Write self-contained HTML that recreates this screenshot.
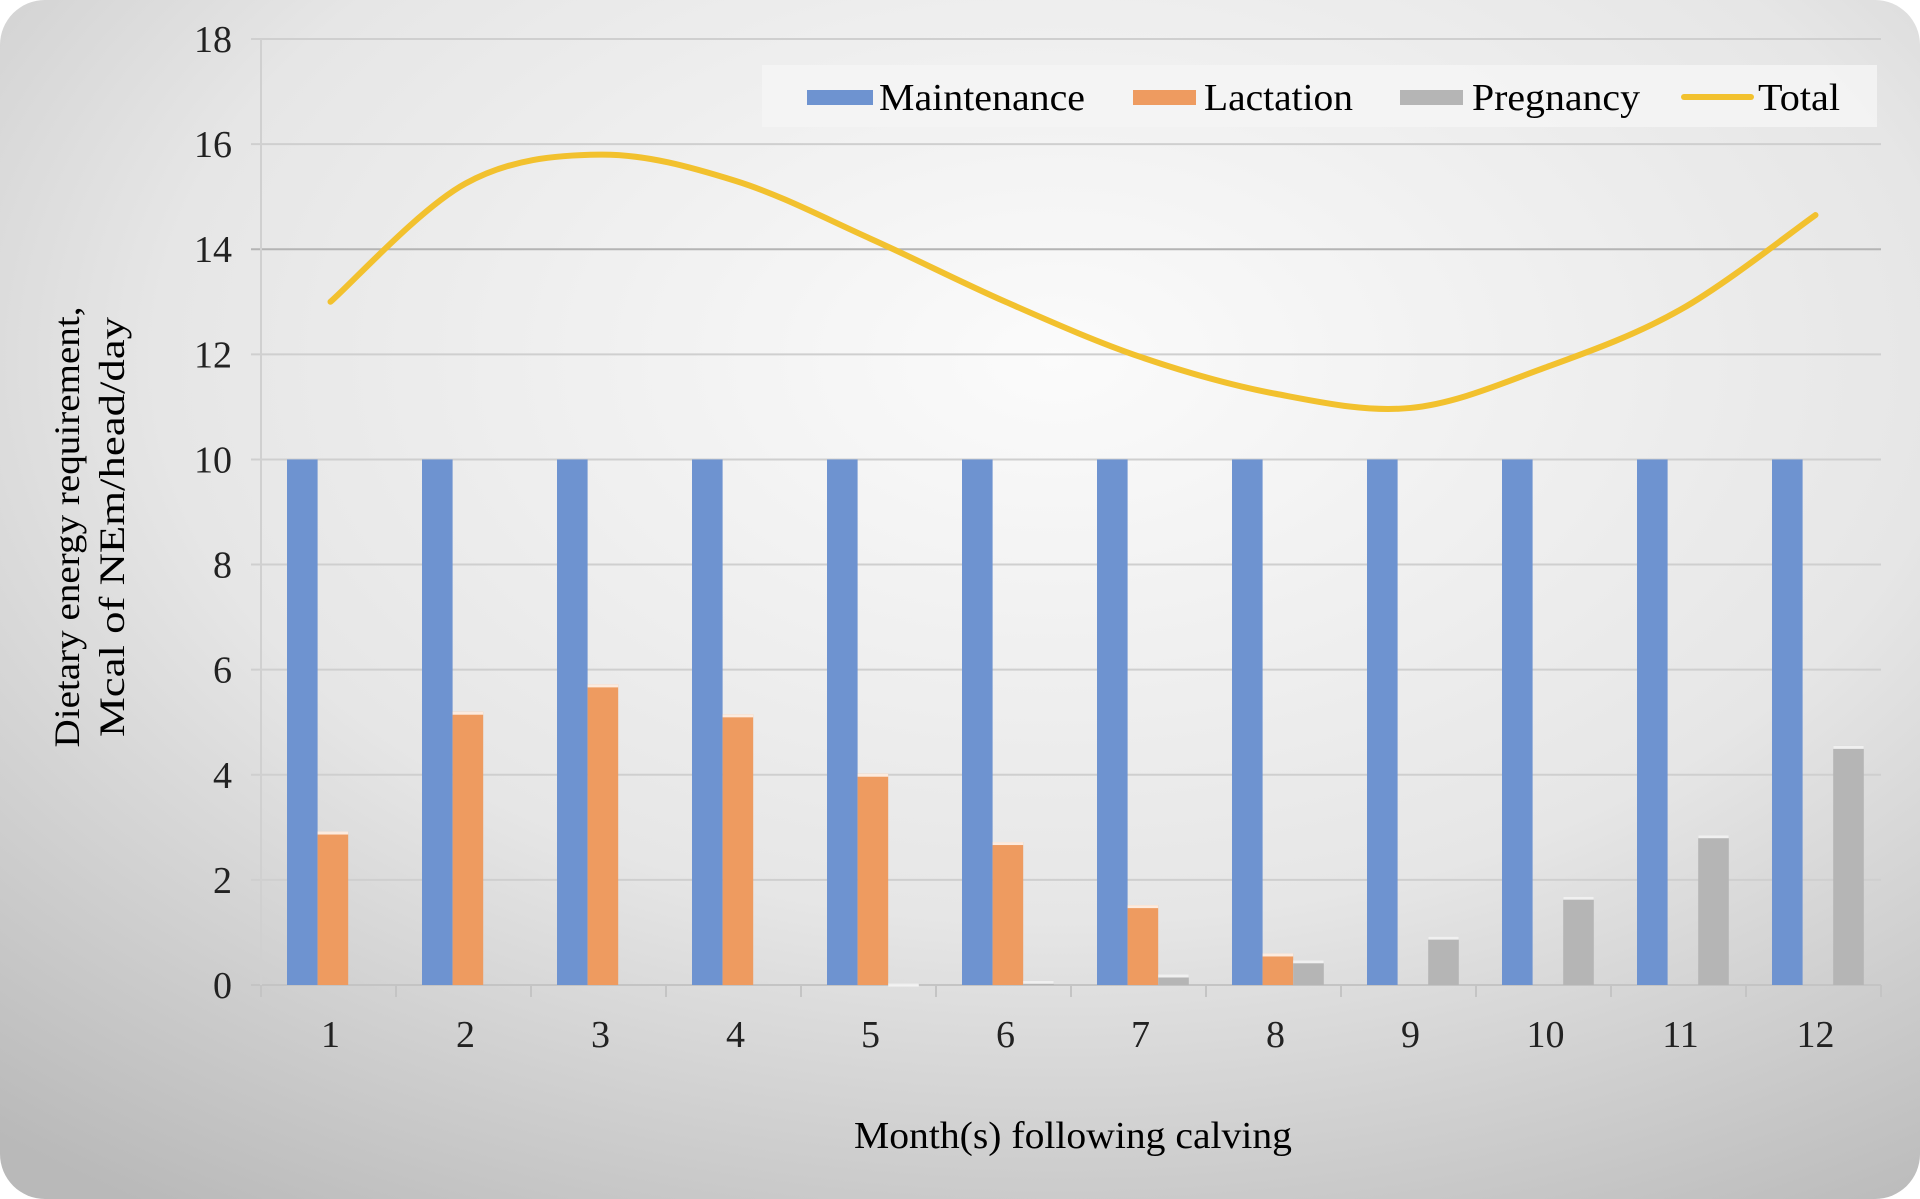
<!DOCTYPE html>
<html><head><meta charset="utf-8"><style>
html,body{margin:0;padding:0;background:#fff;}
svg{display:block;font-family:"Liberation Serif",serif;}
</style></head><body>
<svg id="chart" width="1920" height="1199" viewBox="0 0 1920 1199">
<defs>
<radialGradient id="bg" cx="0.55" cy="0.3" r="0.85">
<stop offset="0" stop-color="#fbfbfb"/><stop offset="0.55" stop-color="#e6e6e6"/><stop offset="1" stop-color="#b9b9b9"/>
</radialGradient>
</defs>
<rect x="0" y="0" width="1920" height="1199" rx="45" fill="url(#bg)"/>
<g id="grid"></g>
<g id="bars"></g>
<g id="line"></g>
<g id="axes"></g>
<g>
<rect x="762" y="65" width="1115" height="62" fill="#f4f4f4" opacity="0.85"/>
<rect x="807" y="90" width="66" height="15" fill="#6e93d0"/>
<text x="879" y="110" font-size="38" textLength="206" lengthAdjust="spacingAndGlyphs">Maintenance</text>
<rect x="1133" y="90" width="63" height="15" fill="#ee9b60"/>
<text x="1204" y="110" font-size="38" textLength="149" lengthAdjust="spacingAndGlyphs">Lactation</text>
<rect x="1400" y="90" width="63" height="15" fill="#b5b5b5"/>
<text x="1472" y="110" font-size="38" textLength="168" lengthAdjust="spacingAndGlyphs">Pregnancy</text>
<line x1="1684" y1="97" x2="1751" y2="97" stroke="#f2c12e" stroke-width="6" stroke-linecap="round"/>
<text x="1758" y="110" font-size="38" textLength="82" lengthAdjust="spacingAndGlyphs">Total</text>
</g>
<text transform="translate(79,527) rotate(-90)" text-anchor="middle" font-size="36" textLength="441" lengthAdjust="spacingAndGlyphs">Dietary energy requirement,</text>
<text transform="translate(124,527) rotate(-90)" text-anchor="middle" font-size="36" textLength="420" lengthAdjust="spacingAndGlyphs">Mcal of NEm/head/day</text>
<text x="1073" y="1148" text-anchor="middle" font-size="38" textLength="438" lengthAdjust="spacingAndGlyphs">Month(s) following calving</text>
</svg>
<script>
const categories = ["1","2","3","4","5","6","7","8","9","10","11","12"];
const maintenance = [10,10,10,10,10,10,10,10,10,10,10,10];
const lactation = [2.92,5.2,5.72,5.15,4.02,2.72,1.52,0.6,0,0,0,0];
const pregnancy = [0,0,0,0,0.03,0.08,0.2,0.47,0.92,1.68,2.85,4.55];
const total = [13.0,15.25,15.8,15.3,14.2,13.0,11.95,11.25,10.98,11.75,12.85,14.65];
const yTicks = [0,2,4,6,8,10,12,14,16,18];

const NS = "http://www.w3.org/2000/svg";
const X0 = 261, X1 = 1881, Y0 = 985, Y18 = 39, YMAX = 18;
const band = (X1 - X0) / categories.length;
const yS = v => Y0 - (v / YMAX) * (Y0 - Y18);
const xC = i => X0 + band * i + band / 2;
const barW = 30.6, gStart = 26;
function mk(tag, attrs, parent) { const e = document.createElementNS(NS, tag); for (const k in attrs) e.setAttribute(k, attrs[k]); parent.appendChild(e); return e; }

const grid = document.getElementById('grid');
yTicks.forEach(t => {
  const y = yS(t);
  const l = mk('line', {x1: X0 - 10, x2: X1, y1: y, y2: y, stroke: t === 0 ? '#c4c4c4' : (t === 14 ? '#b4b4b4' : '#cfcfcf'), 'stroke-width': 2}, grid);
  
  
  const tx = mk('text', {x: 232, y: y + 13, 'text-anchor': 'end', 'font-size': 38, fill: '#222'}, grid);
  tx.textContent = t;
  
  
});
mk('line', {x1: X0, x2: X0, y1: Y18, y2: Y0, stroke: '#d0d0d0', 'stroke-width': 2}, grid);

const axes = document.getElementById('axes');
for (let i = 0; i <= categories.length; i++) {
  const x = X0 + band * i;
  mk('line', {x1: x, x2: x, y1: Y0, y2: Y0 + 12, stroke: '#c4c4c4', 'stroke-width': 2}, axes);
}
categories.forEach((c, i) => {
  const t = mk('text', {x: xC(i) + 2, y: 1047, 'text-anchor': 'middle', 'font-size': 38, fill: '#222'}, axes);
  t.textContent = c;
  
  
});

const bars = document.getElementById('bars');
const series = [[maintenance, '#6e93d0', 'maintenance'], [lactation, '#ee9b60', 'lactation'], [pregnancy, '#b5b5b5', 'pregnancy']];
categories.forEach((c, i) => {
  series.forEach((s, j) => {
    const v = s[0][i];
    if (v <= 0) return;
    const x = X0 + band * i + gStart + j * barW;
    const y = yS(v);
    const r = mk('rect', {x: x, y: y, width: barW, height: Y0 - y, fill: s[1]}, bars);
    
    
    if (j > 0) mk('rect', {x: x, y: y, width: barW, height: 3, fill: '#ffffff', opacity: 0.8}, bars);
  });
});

const pts = total.map((v, i) => [xC(i) + 2, yS(v)]);
let d = 'M' + pts[0][0] + ',' + pts[0][1];
for (let i = 0; i < pts.length - 1; i++) {
  const p0 = pts[Math.max(0, i - 1)], p1 = pts[i], p2 = pts[i + 1], p3 = pts[Math.min(pts.length - 1, i + 2)];
  const c1 = [p1[0] + (p2[0] - p0[0]) / 6, p1[1] + (p2[1] - p0[1]) / 6];
  const c2 = [p2[0] - (p3[0] - p1[0]) / 6, p2[1] - (p3[1] - p1[1]) / 6];
  d += ' C' + c1 + ' ' + c2 + ' ' + p2;
}
const path = mk('path', {d: d, fill: 'none', stroke: '#f2c12e', 'stroke-width': 6, 'stroke-linecap': 'round'}, document.getElementById('line'));


</script>
</body></html>
